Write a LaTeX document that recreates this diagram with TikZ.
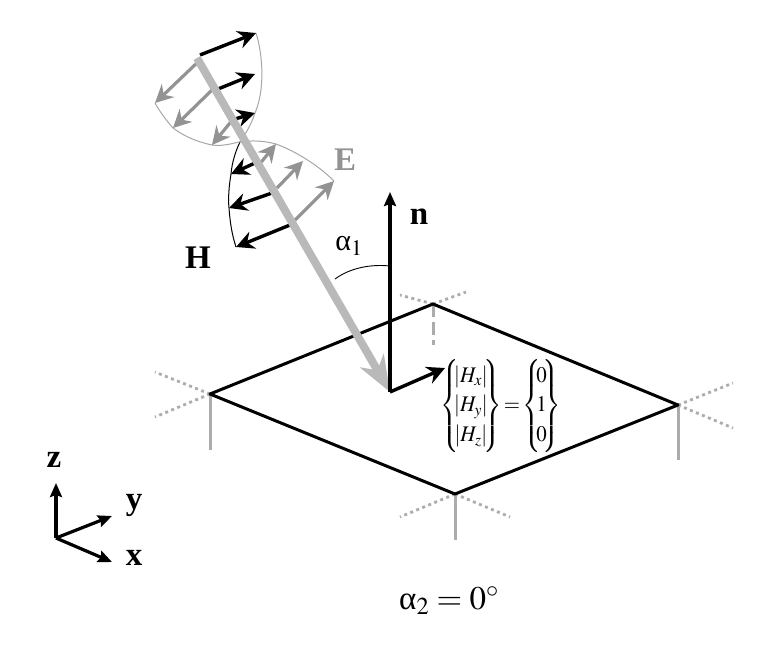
\documentclass[tikz,border=0pt]{standalone}
\usepackage{amsmath}
\usepackage{mathptmx}
\usepackage{fontspec}
\setmainfont{Liberation Serif}
\usetikzlibrary{arrows.meta}

\begin{document}
\begin{tikzpicture}[x=1pt, y=-1pt,
    fieldH/.style={draw=black, line width=3.4pt,
        -{Stealth[length=18pt, width=18pt, inset=6pt]}},
    fieldE/.style={draw=gray!85, line width=3.2pt,
        -{Stealth[length=18pt, width=18pt, inset=6pt]}},
    beam/.style={draw=gray!55, line width=8pt,
        -{Stealth[length=36pt, width=27pt, inset=11pt]}},
    axis/.style={draw=black, line width=3.2pt,
        -{Stealth[length=14pt, width=12pt, inset=2pt]}},
    plate/.style={draw=black, line width=3pt, line join=round},
    stub/.style={draw=gray!65, line width=2.8pt, dash pattern=on 3pt off 3.5pt},
    leg/.style={draw=gray!65, line width=3pt},
    env/.style={line width=1pt, draw=gray!70},
    lbl/.style={font=\fontsize{33}{35}\selectfont\bfseries, inner sep=0pt},
    mth/.style={font=\fontsize{30}{34}\selectfont, inner sep=0pt}
    ]
    \useasboundingbox (0,0) rectangle (770,657);

    % plate corners
    \coordinate (cL) at (210,394);
    \coordinate (cT) at (433,304);
    \coordinate (cR) at (678,405);
    \coordinate (cB) at (455,494);
    \coordinate (cO) at (390,392);

    % stubs at the corners
    \draw[stub] (cL) -- (155,372);
    \draw[stub] (cL) -- (155,417);
    \draw[stub] (cT) -- (400,295);
    \draw[stub] (cT) -- (466,292);
    \draw[stub] (cR) -- (733,383);
    \draw[stub] (cR) -- (733,428);
    \draw[stub] (cB) -- (400,517);
    \draw[stub] (cB) -- (510,517);
    \draw[leg] (cL) -- (210,450);
    \draw[leg] (cR) -- (678,460);
    \draw[leg] (cB) -- (455,540);
    \draw[leg, dash pattern=on 13pt off 5pt] (cT) -- (433,345);
    \draw[plate] (cL) -- (cT) -- (cR) -- (cB) -- cycle;

    % wave tips
    \coordinate (h1) at (256,33);
    \coordinate (h2) at (255,74);
    \coordinate (h3) at (255,113);
    \coordinate (h4) at (231,174);
    \coordinate (h5) at (229,208);
    \coordinate (h6) at (236,247);
    \coordinate (e1) at (155,103);
    \coordinate (e2) at (173,128);
    \coordinate (e3) at (212,145);
    \coordinate (e4) at (276,144);
    \coordinate (e5) at (303,161);
    \coordinate (e6) at (334,181);
    \coordinate (cross) at (240,142);

    % envelopes
    \draw[env] (h1) .. controls (263,55) and (265,90) .. (h3) .. controls (251,125) and (246,133) .. (cross);
    \draw[env, draw=black] (cross) .. controls (236,150) and (232,162) .. (h4) .. controls (229,186) and (228,198) .. (h5) .. controls (230,222) and (232,235) .. (h6);
    \draw[env] (e1) .. controls (160,112) and (166,120) .. (e2) .. controls (185,137) and (198,142) .. (e3) .. controls (225,147) and (240,141) .. (cross) .. controls (252,140) and (265,141) .. (e4) .. controls (290,149) and (315,162) .. (e6);

    % field vectors, from the beam
    \draw[fieldE] (200,60) -- (e1);
    \draw[fieldE] (212,90) -- (e2);
    \draw[fieldE] (234,118) -- (e3);
    \draw[fieldE] (258,166) -- (e4);
    \draw[fieldE] (277,188) -- (e5);
    \draw[fieldE] (295,220) -- (e6);
    \draw[fieldH] (200,55) -- (h1);
    \draw[fieldH] (218,89) -- (h2);
    \draw[fieldH] (235,119) -- (h3);
    \draw[fieldH] (255,163) -- (h4);
    \draw[fieldH] (272,193) -- (h5);
    \draw[fieldH] (290,225) -- (h6);

    \coordinate (beamS) at (197,58);
    \draw[beam] (beamS) -- (cO);

    % normal and H on the plate
    \coordinate (nTip) at (390,192);
    \coordinate (hTip) at (445,368);
    \draw[axis] (cO) -- (nTip);
    \draw[fieldH] (cO) -- (hTip);

    % angle
    \coordinate (arcA) at (335,279);
    \coordinate (arcB) at (390,266);
    \draw[line width=.9pt] (arcA) .. controls (350,268) and (370,264) .. (arcB);

    \node[lbl] (lblH) at (198,258) {H};
    \node[lbl, text=gray!85] (lblE) at (345,160) {E};
    \node[lbl] (lblN) at (419,217) {n};
    \node[mth] (lblA1) at (349,246) {α$_1$};

    \node[inner sep=0pt, font=\fontsize{24}{32}\selectfont] (eqn) at (500.5,406)
        {\scalebox{.87}[.93]{$\left\{\!\!\begin{matrix}|H_x|\\|H_y|\\|H_z|\end{matrix}\!\!\right\}
        \!=\!\left\{\!\!\begin{matrix}0\\1\\0\end{matrix}\!\!\right\}$}};

    % axes
    \coordinate (axO) at (56,538);
    \coordinate (axZ) at (56,483);
    \coordinate (axY) at (112,516);
    \coordinate (axX) at (112,562);
    \draw[axis] (axO) -- (axZ);
    \draw[axis] (axO) -- (axY);
    \draw[axis] (axO) -- (axX);
    \node[lbl] (lblZ) at (54,460) {z};
    \node[lbl] (lblY) at (134,505) {y};
    \node[lbl] (lblX) at (134,558) {x};

    \node[mth, font=\fontsize{33}{36}\selectfont] (lblA2) at (449,601) {α$_2=0^\circ$};
\end{tikzpicture}
\end{document}
